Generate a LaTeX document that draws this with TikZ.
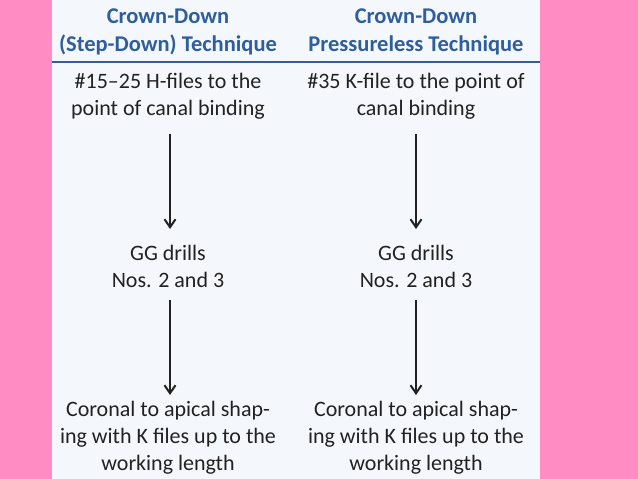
\documentclass[tikz,border=0pt]{standalone}
\usepackage{fontspec}
\usetikzlibrary{arrows.meta}
\setmainfont{Carlito}
\definecolor{pinkbg}{HTML}{FF8CC3}
\definecolor{panel}{HTML}{F4F7FB}
\definecolor{hdr}{HTML}{2F5E9C}
\definecolor{txt}{HTML}{222222}
\begin{document}
\begin{tikzpicture}[x=1pt,y=-1pt,
  lbl/.style={align=center,font=\fontsize{22}{27}\selectfont,text=txt,inner sep=0pt},
  hd/.style={align=center,font=\bfseries\fontsize{22.5}{28}\selectfont,text=hdr,inner sep=0pt},
  arr/.style={-{Straight Barb[length=8pt,width=11pt]},line width=2pt,draw=txt}]
\fill[pinkbg] (0,0) rectangle (638,479);
\fill[panel] (52,0) rectangle (540,479);
\useasboundingbox (0,0) rectangle (638,479);
\draw[hdr,line width=1.2pt] (52,62) -- (540,62);
\node[hd] (h1) at (168,32) {Crown-Down\\(Step-Down) Technique};
\node[hd] (h2) at (416,32) {Crown-Down\\Pressureless Technique};
\node[lbl] (a1) at (168,96) {\#15–25 H-files to the\\point of canal binding};
\node[lbl] (a2) at (416,96) {\#35 K-file to the point of\\canal binding};
\node[lbl] (b1) at (168,266) {GG drills\\Nos. 2 and 3};
\node[lbl] (b2) at (416,266) {GG drills\\Nos. 2 and 3};
\node[lbl] (c1) at (168,438) {Coronal to apical shap-\\ing with K files up to the\\working length};
\node[lbl] (c2) at (416,438) {Coronal to apical shap-\\ing with K files up to the\\working length};
\coordinate (s1) at (170,134); \coordinate (e1) at (170,229);
\coordinate (s2) at (170,300); \coordinate (e2) at (170,395);
\coordinate (s3) at (416,134); \coordinate (e3) at (416,229);
\coordinate (s4) at (416,300); \coordinate (e4) at (416,395);
\draw[arr] (s1) -- (e1);
\draw[arr] (s2) -- (e2);
\draw[arr] (s3) -- (e3);
\draw[arr] (s4) -- (e4);
\end{tikzpicture}
\end{document}
